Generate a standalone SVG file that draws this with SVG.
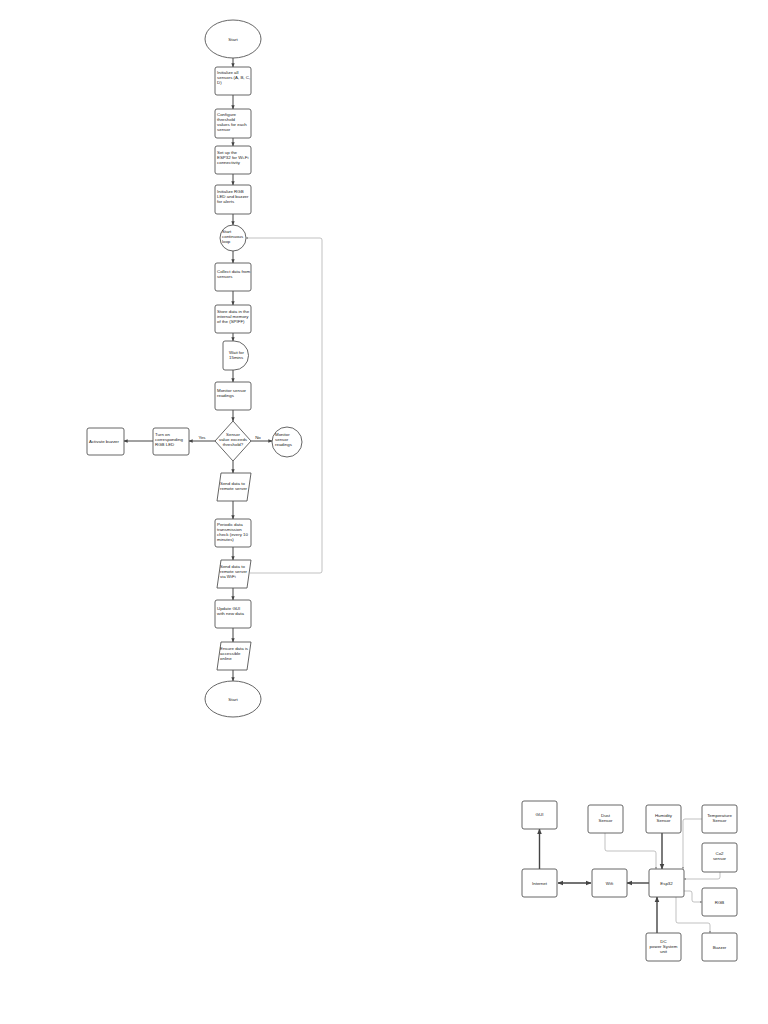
<svg xmlns="http://www.w3.org/2000/svg" width="768" height="1024" viewBox="0 0 768 1024">
<defs>
<marker id="ah" viewBox="0 0 6 6" refX="5.5" refY="3" markerWidth="4" markerHeight="4" orient="auto-start-reverse"><path d="M0,0.5 L6,3 L0,5.5 z" fill="#444"/></marker>
<marker id="ahl" viewBox="0 0 6 6" refX="5.5" refY="3" markerWidth="4" markerHeight="4" orient="auto-start-reverse"><path d="M0,0.5 L6,3 L0,5.5 z" fill="#888"/></marker>
<style>
.s{fill:#fff;stroke:#555;stroke-width:0.9}
.t{font-family:"Liberation Sans",Arial,sans-serif;font-size:4.4px;fill:#222}
.c{text-anchor:middle}
.d{fill:none;stroke:#444;stroke-width:1;marker-end:url(#ah)}
.k{fill:none;stroke:#444;stroke-width:1.4;marker-end:url(#ah)}
.l{fill:none;stroke:#999;stroke-width:0.6;marker-end:url(#ahl)}
</style>
</defs>
<rect width="768" height="1024" fill="#fff"/>

<g id="connectors">
<path class="d" d="M233,58 V67"/>
<path class="d" d="M233,95 V109"/>
<path class="d" d="M233,138 V146"/>
<path class="d" d="M233,174 V185"/>
<path class="d" d="M233,214 V225"/>
<path class="d" d="M233,251 V263"/>
<path class="d" d="M233,291 V305"/>
<path class="d" d="M233,333 V341"/>
<path class="d" d="M233,370 V382"/>
<path class="d" d="M233,410 V421"/>
<path class="d" d="M215,441 H189"/>
<path class="d" d="M153,441 H124"/>
<path class="d" d="M251,441 H272"/>
<path class="d" d="M233,461 V473"/>
<path class="d" d="M233,501 V519"/>
<path class="d" d="M233,547 V560"/>
<path class="d" d="M233,588 V600"/>
<path class="d" d="M233,628 V642"/>
<path class="d" d="M233,670 V681"/>
<path class="l" d="M250,573 H320 Q322,573 322,571 V240 Q322,238 320,238 H246"/>
<text class="t" x="202" y="439" text-anchor="middle">Yes</text>
<text class="t" x="258" y="439" text-anchor="middle">No</text>

<path class="k" d="M539.5,869 V829"/>
<path class="k" d="M558,883 H591" marker-start="url(#ah)"/>
<path class="k" d="M649,883 H627"/>
<path class="l" d="M605,833 V849 Q605,851 607,851 H654 Q656,851 656,853 V869"/>
<path class="k" d="M662,833 V869"/>
<path class="l" d="M702,819 H685 Q683,819 683,821 V869"/>
<path class="l" d="M720,872 V877 Q720,879 718,879 H684"/>
<path class="l" d="M684,891 H690 Q692,891 692,893 V900 Q692,902 694,902 H702"/>
<path class="l" d="M676,897 V921 Q676,923 678,923 H708 Q710,923 710,925 V933"/>
<path class="k" d="M657,933 V897"/>
</g>

<g id="start">
<ellipse class="s" cx="233" cy="39" rx="28" ry="19"/>
<text class="t c" x="233" y="40.5">Start</text>
</g>
<g id="init-sensors">
<rect class="s" x="215" y="67" width="36" height="28" rx="2"/>
<text class="t" x="217" y="74">Initialize all</text>
<text class="t" x="217" y="79">sensors (A, B, C,</text>
<text class="t" x="217" y="84">D)</text>
</g>
<g id="configure">
<rect class="s" x="215" y="109" width="36" height="29" rx="2"/>
<text class="t" x="217" y="116">Configure</text>
<text class="t" x="217" y="121">threshold</text>
<text class="t" x="217" y="126">values for each</text>
<text class="t" x="217" y="131">sensor</text>
</g>
<g id="setup-esp">
<rect class="s" x="215" y="146" width="36" height="28" rx="2"/>
<text class="t" x="217" y="154">Set up the</text>
<text class="t" x="217" y="159">ESP32 for Wi-Fi</text>
<text class="t" x="217" y="164">connectivity</text>
</g>
<g id="init-rgb">
<rect class="s" x="215" y="185" width="36" height="29" rx="2"/>
<text class="t" x="217" y="193">Initialize RGB</text>
<text class="t" x="217" y="198">LED and buzzer</text>
<text class="t" x="217" y="203">for alerts</text>
</g>
<g id="loop">
<circle class="s" cx="233" cy="238" r="13"/>
<text class="t" x="222" y="233">Start</text>
<text class="t" x="222" y="238">continuous</text>
<text class="t" x="222" y="243">loop</text>
</g>
<g id="collect">
<rect class="s" x="215" y="263" width="36" height="28" rx="2"/>
<text class="t" x="217" y="273">Collect data from</text>
<text class="t" x="217" y="278">sensors</text>
</g>
<g id="store">
<rect class="s" x="215" y="305" width="36" height="28" rx="2"/>
<text class="t" x="217" y="313">Store data in the</text>
<text class="t" x="217" y="318">internal memory</text>
<text class="t" x="217" y="323">of the (SPIFF)</text>
</g>
<g id="wait">
<path class="s" d="M225,341 H234 A14.5,14.5 0 0 1 234,370 H225 Q223,370 223,368 V343 Q223,341 225,341 z"/>
<text class="t" x="229" y="354">Wait for</text>
<text class="t" x="229" y="359">15mins</text>
</g>
<g id="monitor">
<rect class="s" x="215" y="382" width="36" height="28" rx="2"/>
<text class="t" x="217" y="392">Monitor sensor</text>
<text class="t" x="217" y="397">readings</text>
</g>
<g id="decision">
<path class="s" d="M233,421 L251,441 L233,461 L215,441 z"/>
<text class="t c" x="233" y="436">Sensor</text>
<text class="t c" x="233" y="441">value exceeds</text>
<text class="t c" x="233" y="446">threshold?</text>
</g>
<g id="turn-on-led">
<rect class="s" x="153" y="428" width="36" height="27" rx="2"/>
<text class="t" x="155" y="436">Turn on</text>
<text class="t" x="155" y="441">corresponding</text>
<text class="t" x="155" y="446">RGB LED</text>
</g>
<g id="buzzer-alert">
<rect class="s" x="87" y="428" width="37" height="27" rx="2"/>
<text class="t" x="89" y="443">Activate buzzer</text>
</g>
<g id="monitor-circle">
<circle class="s" cx="287" cy="442" r="15"/>
<text class="t" x="275" y="436">Monitor</text>
<text class="t" x="275" y="441">sensor</text>
<text class="t" x="275" y="446">readings</text>
</g>
<g id="send-remote">
<path class="s" d="M221,473 H251 L247,501 H217 z"/>
<text class="t" x="220" y="485">Send data to</text>
<text class="t" x="220" y="490">remote server</text>
</g>
<g id="periodic">
<rect class="s" x="215" y="519" width="36" height="28" rx="2"/>
<text class="t" x="217" y="526">Periodic data</text>
<text class="t" x="217" y="531">transmission</text>
<text class="t" x="217" y="536">check (every 10</text>
<text class="t" x="217" y="541">minutes)</text>
</g>
<g id="send-wifi">
<path class="s" d="M221,560 H251 L247,588 H217 z"/>
<text class="t" x="220" y="568">Send data to</text>
<text class="t" x="220" y="573">remote server</text>
<text class="t" x="220" y="578">via WiFi</text>
</g>
<g id="update-gui">
<rect class="s" x="215" y="600" width="36" height="28" rx="2"/>
<text class="t" x="217" y="610">Update GUI</text>
<text class="t" x="217" y="615">with new data</text>
</g>
<g id="ensure">
<path class="s" d="M221,642 H251 L247,670 H217 z"/>
<text class="t" x="220" y="650">Ensure data is</text>
<text class="t" x="220" y="655">accessible</text>
<text class="t" x="220" y="660">online</text>
</g>
<g id="end">
<ellipse class="s" cx="233" cy="699" rx="28" ry="18"/>
<text class="t c" x="233" y="700.5">Start</text>
</g>

<g id="gui">
<rect class="s" x="522" y="801" width="35" height="28" rx="2"/>
<text class="t c" x="539.5" y="816">GUI</text>
</g>
<g id="dust">
<rect class="s" x="588" y="805" width="35" height="28" rx="2"/>
<text class="t c" x="605.5" y="817">Dust</text>
<text class="t c" x="605.5" y="822">Sensor</text>
</g>
<g id="humidity">
<rect class="s" x="646" y="805" width="35" height="28" rx="2"/>
<text class="t c" x="663.5" y="817">Humidity</text>
<text class="t c" x="663.5" y="822">Sensor</text>
</g>
<g id="temperature">
<rect class="s" x="702" y="805" width="35" height="28" rx="2"/>
<text class="t c" x="719.5" y="817">Temperature</text>
<text class="t c" x="719.5" y="822">Sensor</text>
</g>
<g id="co2">
<rect class="s" x="702" y="843" width="35" height="29" rx="2"/>
<text class="t c" x="719.5" y="855">Co2</text>
<text class="t c" x="719.5" y="860">sensor</text>
</g>
<g id="internet">
<rect class="s" x="522" y="869" width="35" height="28" rx="2"/>
<text class="t c" x="539.5" y="884.5">Internet</text>
</g>
<g id="wifi">
<rect class="s" x="592" y="869" width="35" height="28" rx="2"/>
<text class="t c" x="609.5" y="884.5">Wifi</text>
</g>
<g id="esp32">
<rect class="s" x="649" y="869" width="35" height="28" rx="2"/>
<text class="t c" x="666.5" y="884.5">Esp32</text>
</g>
<g id="rgb">
<rect class="s" x="702" y="888" width="35" height="28" rx="2"/>
<text class="t c" x="719.5" y="903.5">RGB</text>
</g>
<g id="dc-power">
<rect class="s" x="646" y="933" width="35" height="28" rx="2"/>
<text class="t c" x="663.5" y="943">DC</text>
<text class="t c" x="663.5" y="948">power System</text>
<text class="t c" x="663.5" y="953">unit</text>
</g>
<g id="buzzer">
<rect class="s" x="702" y="933" width="35" height="28" rx="2"/>
<text class="t c" x="719.5" y="948.5">Buzzer</text>
</g>
</svg>
